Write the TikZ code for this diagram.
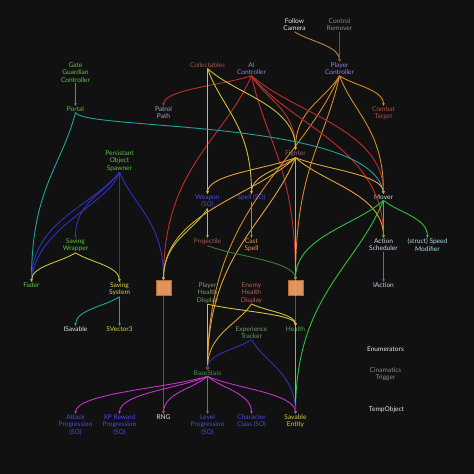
\documentclass[tikz,border=0pt]{standalone}
\usepackage{fontspec}
\setmainfont{Lato}
\usetikzlibrary{arrows.meta,calc}

% text colours
\definecolor{bgcol}{HTML}{111111}
\definecolor{cWhite}{HTML}{E6E6E6}
\definecolor{cGrey}{HTML}{8A8A8A}
\definecolor{cViolet}{HTML}{9283DC}
\definecolor{cLav}{HTML}{AFA2DA}
\definecolor{cBrown}{HTML}{A4524C}
\definecolor{cCombat}{HTML}{B24B40}
\definecolor{cFighter}{HTML}{8E5C6C}
\definecolor{cBlueT}{HTML}{4E48E4}
\definecolor{cMover}{HTML}{C6D8EE}
\definecolor{cProj}{HTML}{AA5A5C}
\definecolor{cCast}{HTML}{E89C4C}
\definecolor{cGreen}{HTML}{5DC43E}
\definecolor{cSched}{HTML}{D6D6E4}
\definecolor{cSpeed}{HTML}{A6DCE0}
\definecolor{cYellowT}{HTML}{DDCD4E}
\definecolor{cPhd}{HTML}{7E9C70}
\definecolor{cEhd}{HTML}{B2625E}
\definecolor{cXp}{HTML}{6C9A6A}
\definecolor{cHealth}{HTML}{4AA24A}
\definecolor{cBase}{HTML}{3E9249}
\definecolor{cIAct}{HTML}{D2CAF0}
% edge colours
\definecolor{eTeal}{HTML}{1FA39A}
\definecolor{eRed}{HTML}{C42B2B}
\definecolor{eOrange}{HTML}{D48A2E}
\definecolor{eTan}{HTML}{B8864A}
\definecolor{eYellow}{HTML}{C9C23A}
\definecolor{eFighter}{HTML}{E0A43A}
\definecolor{eYG}{HTML}{B5C23A}
\definecolor{eSpell}{HTML}{C27A30}
\definecolor{eProj}{HTML}{3E7A36}
\definecolor{eGreen}{HTML}{2FC23A}
\definecolor{eBlue}{HTML}{3030BE}
\definecolor{eMag}{HTML}{C234C8}
\definecolor{ePhd}{HTML}{D8C048}
\definecolor{eHealth}{HTML}{D89A30}
\definecolor{sqfill}{HTML}{E0935A}
\definecolor{sqline}{HTML}{B86A30}

\begin{document}
\begin{tikzpicture}[>={Stealth[length=3pt,width=2.6pt]}, x=1bp, y=1bp,
    lbl/.style={anchor=north, align=center, inner sep=0.6pt, font=\fontsize{6.6}{7.3}\selectfont},
    dep/.style={->, line width=0.9pt, to path={.. controls ($(\tikztostart)!0.32!(\tikztotarget)$) and ($(\tikztotarget)!0.55!(\tikztotarget|-\tikztostart)$) .. (\tikztotarget) \tikztonodes}},
    icon/.style={draw=sqline, fill=sqfill, minimum size=15pt, inner sep=0pt, line width=0.6pt}]

    \fill[bgcol] (-0.5,0.5) rectangle (473.5,-473.5);
    \useasboundingbox (-0.5,0.5) rectangle (473.5,-473.5);

    % row 1 and 2
    \node[lbl, cWhite] (fcam) at (294,-17.5) {Follow\\Camera};
    \node[lbl, cGrey] (crem) at (339,-17.5) {Control\\Remover};
    \node[lbl, cGreen] (ggc) at (75,-61.5) {Gate\\Guardian\\Controller};
    \node[lbl, cBrown] (coll) at (207,-61.5) {Collectables};
    \node[lbl, cViolet] (aictrl) at (251,-61.5) {AI\\Controller};
    \node[lbl, cViolet] (pctrl) at (339,-61.5) {Player\\Controller};

    % row 3 and 4
    \node[lbl, cGreen] (portal) at (75,-105.5) {Portal};
    \node[lbl, cLav] (patrol) at (163,-105.5) {Patrol\\Path};
    \node[lbl, cCombat] (ctarget) at (383,-105.5) {Combat\\Target};
    \node[lbl, cGreen] (spawner) at (119,-149.5) {Persistant\\Object\\Spawner};
    \node[lbl, cFighter] (fighter) at (295,-149.5) {Fighter};

    % row 5 and 6
    \node[lbl, cBlueT] (weapon) at (207,-193.5) {Weapon\\(SO)};
    \node[lbl, cBlueT] (spell) at (251,-193.5) {Spell (SO)};
    \node[lbl, cMover] (mover) at (383,-193.5) {Mover};
    \node[lbl, cGreen] (swrap) at (75,-237.5) {Saving\\Wrapper};
    \node[lbl, cProj] (proj) at (207,-237.5) {Projectile};
    \node[lbl, cCast] (cast) at (251,-237.5) {Cast\\Spell};
    \node[lbl, cSched] (sched) at (383,-237.5) {Action\\Scheduler};
    \node[lbl, cSpeed] (speed) at (427,-237.5) {(struct) Speed\\Modifier};

    % row 7 and 8
    \node[lbl, cGreen] (fader) at (31,-281.5) {Fader};
    \node[lbl, cYellowT] (ssys) at (119,-281.5) {Saving\\System};
    \node[icon] (sqL) at (163,-287.5) {};
    \node[lbl, cPhd] (phd) at (207,-281.5) {Player\\Health\\Display};
    \node[lbl, cEhd] (ehd) at (251,-281.5) {Enemy\\Health\\Display};
    \node[icon] (sqR) at (295,-287.5) {};
    \node[lbl, cIAct] (iaction) at (383,-281.5) {IAction};
    \node[lbl, cWhite] (isav) at (75,-325.5) {ISavable};
    \node[lbl, cYellowT] (svec) at (119,-325.5) {SVector3};
    \node[lbl, cXp] (xp) at (251,-325.5) {Experience\\Tracker};
    \node[lbl, cHealth] (health) at (295,-325.5) {Health};

    % row 9 and 10
    \node[lbl, cBase] (base) at (207,-369.5) {BaseStats};
    \node[lbl, cBlueT] (attack) at (75,-413.5) {Attack\\Progression\\(SO)};
    \node[lbl, cBlueT] (xpprog) at (119,-413.5) {XP Reward\\Progression\\(SO)};
    \node[lbl, cWhite] (rng) at (163,-413.5) {RNG};
    \node[lbl, cBlueT] (lvl) at (207,-413.5) {Level\\Progression\\(SO)};
    \node[lbl, cBlueT] (cclass) at (251,-413.5) {Character\\Class (SO)};
    \node[lbl, cYellowT] (savent) at (295,-413.5) {Savable\\Entity};

    % loose ones
    \node[lbl, cWhite] (enums) at (385,-345) {Enumerators};
    \node[lbl, cGrey] (cine) at (385,-366.5) {Cinamatics\\Trigger};
    \node[lbl, cWhite] (temp) at (386,-405.5) {TempObject};

    % controllers
    \draw[dep, eTan] (fcam.south) to (pctrl.north);
    \draw[dep, eRed] (crem.south) to (pctrl.north);
    \draw[dep, eOrange] (pctrl.south) to (ctarget.north);
    \draw[dep, eOrange] (pctrl.south) to (fighter.north);
    \draw[dep, eOrange] (pctrl.south) to (mover.north);
    \draw[dep, eOrange] (pctrl.south) to (sqR.north);
    \draw[dep, eOrange] (pctrl.south) to (base.north);
    \draw[dep, eRed] (aictrl.south) to (patrol.north);
    \draw[dep, eRed] (aictrl.south) to (sqL.north);
    \draw[dep, eRed] (aictrl.south) to (fighter.north);
    \draw[dep, eRed] (aictrl.south) to (mover.north);
    \draw[dep, eRed] (aictrl.south) to (sched.north);
    \draw[dep, eRed] (aictrl.south) to (sqR.north);
    \draw[dep, eYellow] (coll.south) to (weapon.north);
    \draw[dep, eYellow] (coll.south) to (spell.north);
    \draw[dep, eYellow] (coll.south) to (fighter.north);

    % portal and saving
    \draw[dep, eTeal] (ggc.south) to (portal.north);
    \draw[dep, eTeal] (portal.south) to (fader.north);
    \draw[->, line width=0.9pt, eTeal] (portal.south) .. controls (82,-130) and (372,-118) .. (mover.north);
    \draw[dep, eBlue] (spawner.south) to (fader.north);
    \draw[->, line width=0.9pt, eBlue] (spawner.south) .. controls (108,-205) and (36,-225) .. (fader.north);
    \draw[dep, eBlue] (spawner.south) to (swrap.north);
    \draw[dep, eBlue] (spawner.south) to (ssys.north);
    \draw[dep, eBlue] (spawner.south) to (sqL.north);
    \draw[dep, eYellow] (swrap.south) to (fader.north);
    \draw[dep, eYellow] (swrap.south) to (ssys.north);
    \draw[dep, eTeal] (ssys.south) to (isav.north);
    \draw[dep, eTeal] (ssys.south) to (svec.north);

    % combat
    \draw[dep, eFighter] (fighter.south) to (weapon.north);
    \draw[dep, eFighter] (fighter.south) to (spell.north);
    \draw[dep, eFighter] (fighter.south) to (mover.north);
    \draw[dep, eFighter] (fighter.south) to (sched.north);
    \draw[dep, eFighter] (fighter.south) to (sqR.north);
    \draw[dep, eFighter] (fighter.south) to (sqL.north);
    \draw[dep, eFighter] (fighter.south) to (base.north);
    \draw[dep, eFighter] (fighter.south) to (savent.north);
    \draw[dep, eYG] (weapon.south) to (proj.north);
    \draw[dep, eYG] (weapon.south) to (sqL.north);
    \draw[dep, eSpell] (spell.south) to (cast.north);
    \draw[dep, eProj] (proj.south) to (sqR.north);

    % movement
    \draw[dep, eGreen] (mover.south) to (sched.north);
    \draw[dep, eGreen] (mover.south) to (speed.north);
    \draw[dep, eGreen] (mover.south) to (sqR.north);
    \draw[dep, eGreen] (mover.south) to (savent.north);
    \draw[dep, eMag] (sched.south) to (iaction.north);

    % stats
    \draw[dep, eRed] (sqL.south) to (rng.north);
    \draw[dep, eRed] (sqR.south) to (health.north);
    \draw[dep, ePhd] (phd.south) to (base.north);
    \draw[dep, ePhd] (phd.south) to (health.north);
    \draw[dep, ePhd] (ehd.south) to (health.north);
    \draw[dep, eFighter] (ehd.south) to (base.north);
    \draw[dep, eHealth] (health.south) to (savent.north);
    \draw[dep, eBlue] (xp.south) to (base.north);
    \draw[dep, eBlue] (xp.south) to (savent.north);
    \foreach \t in {attack,xpprog,rng,lvl,cclass,savent}
        \draw[dep, eMag] (base.south) to (\t.north);

\end{tikzpicture}
\end{document}
